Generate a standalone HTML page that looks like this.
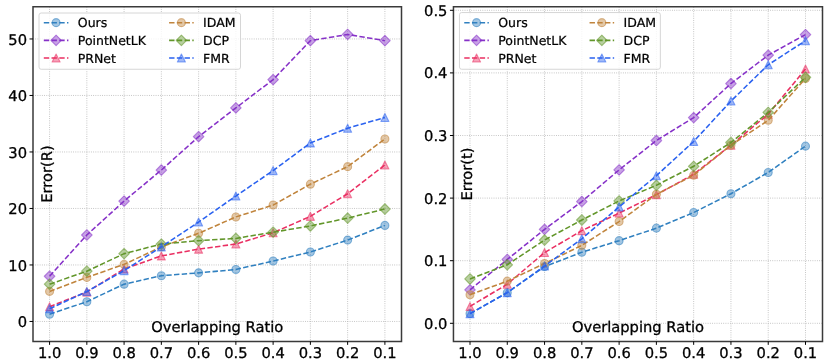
<!DOCTYPE html>
<html><head><meta charset="utf-8"><style>html,body{margin:0;padding:0;background:#fff;overflow:hidden}text{text-rendering:geometricPrecision}svg{display:block}</style></head>
<body>
<svg width="831" height="362" viewBox="0 0 831 362" font-family="'DejaVu Sans', 'Liberation Sans', sans-serif">
<g>
<rect width="831" height="362" fill="#ffffff"/>
<g stroke="#b0b0b0" stroke-width="0.84" stroke-dasharray="0.84,1.39"><line x1="49.57" y1="6.7" x2="49.57" y2="341.45"/><line x1="86.83" y1="6.7" x2="86.83" y2="341.45"/><line x1="124.09" y1="6.7" x2="124.09" y2="341.45"/><line x1="161.35" y1="6.7" x2="161.35" y2="341.45"/><line x1="198.61" y1="6.7" x2="198.61" y2="341.45"/><line x1="235.86" y1="6.7" x2="235.86" y2="341.45"/><line x1="273.12" y1="6.7" x2="273.12" y2="341.45"/><line x1="310.38" y1="6.7" x2="310.38" y2="341.45"/><line x1="347.64" y1="6.7" x2="347.64" y2="341.45"/><line x1="384.90" y1="6.7" x2="384.90" y2="341.45"/><line x1="33.0" y1="321.46" x2="401.5" y2="321.46"/><line x1="33.0" y1="264.96" x2="401.5" y2="264.96"/><line x1="33.0" y1="208.46" x2="401.5" y2="208.46"/><line x1="33.0" y1="151.96" x2="401.5" y2="151.96"/><line x1="33.0" y1="95.46" x2="401.5" y2="95.46"/><line x1="33.0" y1="38.96" x2="401.5" y2="38.96"/></g>
<polyline points="49.57,314.28 86.83,301.69 124.09,284.17 161.35,275.69 198.61,272.87 235.86,269.48 273.12,261.00 310.38,251.96 347.64,240.10 384.90,225.41" fill="none" stroke="#3080c0" stroke-width="1.55" stroke-dasharray="5.4,2.33"/>
<circle cx="49.57" cy="314.28" r="4.00" fill="#3080c0" fill-opacity="0.45" stroke="#3080c0" stroke-opacity="0.55" stroke-width="1.1" stroke-linejoin="round"/><circle cx="86.83" cy="301.69" r="4.00" fill="#3080c0" fill-opacity="0.45" stroke="#3080c0" stroke-opacity="0.55" stroke-width="1.1" stroke-linejoin="round"/><circle cx="124.09" cy="284.17" r="4.00" fill="#3080c0" fill-opacity="0.45" stroke="#3080c0" stroke-opacity="0.55" stroke-width="1.1" stroke-linejoin="round"/><circle cx="161.35" cy="275.69" r="4.00" fill="#3080c0" fill-opacity="0.45" stroke="#3080c0" stroke-opacity="0.55" stroke-width="1.1" stroke-linejoin="round"/><circle cx="198.61" cy="272.87" r="4.00" fill="#3080c0" fill-opacity="0.45" stroke="#3080c0" stroke-opacity="0.55" stroke-width="1.1" stroke-linejoin="round"/><circle cx="235.86" cy="269.48" r="4.00" fill="#3080c0" fill-opacity="0.45" stroke="#3080c0" stroke-opacity="0.55" stroke-width="1.1" stroke-linejoin="round"/><circle cx="273.12" cy="261.00" r="4.00" fill="#3080c0" fill-opacity="0.45" stroke="#3080c0" stroke-opacity="0.55" stroke-width="1.1" stroke-linejoin="round"/><circle cx="310.38" cy="251.96" r="4.00" fill="#3080c0" fill-opacity="0.45" stroke="#3080c0" stroke-opacity="0.55" stroke-width="1.1" stroke-linejoin="round"/><circle cx="347.64" cy="240.10" r="4.00" fill="#3080c0" fill-opacity="0.45" stroke="#3080c0" stroke-opacity="0.55" stroke-width="1.1" stroke-linejoin="round"/><circle cx="384.90" cy="225.41" r="4.00" fill="#3080c0" fill-opacity="0.45" stroke="#3080c0" stroke-opacity="0.55" stroke-width="1.1" stroke-linejoin="round"/>
<polyline points="49.57,276.26 86.83,235.01 124.09,201.11 161.35,170.04 198.61,136.70 235.86,107.89 273.12,79.64 310.38,40.65 347.64,34.44 384.90,40.65" fill="none" stroke="#8631c8" stroke-width="1.55" stroke-dasharray="5.4,2.33"/>
<path d="M49.57,270.98L54.85,276.26L49.57,281.54L44.29,276.26Z" fill="#8631c8" fill-opacity="0.45" stroke="#8631c8" stroke-opacity="0.55" stroke-width="1.1" stroke-linejoin="round"/><path d="M86.83,229.73L92.11,235.01L86.83,240.29L81.55,235.01Z" fill="#8631c8" fill-opacity="0.45" stroke="#8631c8" stroke-opacity="0.55" stroke-width="1.1" stroke-linejoin="round"/><path d="M124.09,195.83L129.37,201.11L124.09,206.39L118.81,201.11Z" fill="#8631c8" fill-opacity="0.45" stroke="#8631c8" stroke-opacity="0.55" stroke-width="1.1" stroke-linejoin="round"/><path d="M161.35,164.76L166.63,170.04L161.35,175.32L156.07,170.04Z" fill="#8631c8" fill-opacity="0.45" stroke="#8631c8" stroke-opacity="0.55" stroke-width="1.1" stroke-linejoin="round"/><path d="M198.61,131.42L203.89,136.70L198.61,141.98L193.33,136.70Z" fill="#8631c8" fill-opacity="0.45" stroke="#8631c8" stroke-opacity="0.55" stroke-width="1.1" stroke-linejoin="round"/><path d="M235.86,102.61L241.14,107.89L235.86,113.17L230.58,107.89Z" fill="#8631c8" fill-opacity="0.45" stroke="#8631c8" stroke-opacity="0.55" stroke-width="1.1" stroke-linejoin="round"/><path d="M273.12,74.36L278.40,79.64L273.12,84.92L267.84,79.64Z" fill="#8631c8" fill-opacity="0.45" stroke="#8631c8" stroke-opacity="0.55" stroke-width="1.1" stroke-linejoin="round"/><path d="M310.38,35.37L315.66,40.65L310.38,45.93L305.10,40.65Z" fill="#8631c8" fill-opacity="0.45" stroke="#8631c8" stroke-opacity="0.55" stroke-width="1.1" stroke-linejoin="round"/><path d="M347.64,29.16L352.92,34.44L347.64,39.72L342.36,34.44Z" fill="#8631c8" fill-opacity="0.45" stroke="#8631c8" stroke-opacity="0.55" stroke-width="1.1" stroke-linejoin="round"/><path d="M384.90,35.37L390.18,40.65L384.90,45.93L379.62,40.65Z" fill="#8631c8" fill-opacity="0.45" stroke="#8631c8" stroke-opacity="0.55" stroke-width="1.1" stroke-linejoin="round"/>
<polyline points="49.57,306.66 86.83,292.08 124.09,268.91 161.35,255.92 198.61,249.14 235.86,244.05 273.12,232.75 310.38,216.37 347.64,193.77 384.90,164.95" fill="none" stroke="#ea2f62" stroke-width="1.55" stroke-dasharray="5.4,2.33"/>
<path d="M49.57,302.66L53.57,310.66L45.57,310.66Z" fill="#ea2f62" fill-opacity="0.45" stroke="#ea2f62" stroke-opacity="0.55" stroke-width="1.1" stroke-linejoin="round"/><path d="M86.83,288.08L90.83,296.08L82.83,296.08Z" fill="#ea2f62" fill-opacity="0.45" stroke="#ea2f62" stroke-opacity="0.55" stroke-width="1.1" stroke-linejoin="round"/><path d="M124.09,264.91L128.09,272.91L120.09,272.91Z" fill="#ea2f62" fill-opacity="0.45" stroke="#ea2f62" stroke-opacity="0.55" stroke-width="1.1" stroke-linejoin="round"/><path d="M161.35,251.92L165.35,259.92L157.35,259.92Z" fill="#ea2f62" fill-opacity="0.45" stroke="#ea2f62" stroke-opacity="0.55" stroke-width="1.1" stroke-linejoin="round"/><path d="M198.61,245.14L202.61,253.14L194.61,253.14Z" fill="#ea2f62" fill-opacity="0.45" stroke="#ea2f62" stroke-opacity="0.55" stroke-width="1.1" stroke-linejoin="round"/><path d="M235.86,240.05L239.86,248.05L231.86,248.05Z" fill="#ea2f62" fill-opacity="0.45" stroke="#ea2f62" stroke-opacity="0.55" stroke-width="1.1" stroke-linejoin="round"/><path d="M273.12,228.75L277.12,236.75L269.12,236.75Z" fill="#ea2f62" fill-opacity="0.45" stroke="#ea2f62" stroke-opacity="0.55" stroke-width="1.1" stroke-linejoin="round"/><path d="M310.38,212.37L314.38,220.37L306.38,220.37Z" fill="#ea2f62" fill-opacity="0.45" stroke="#ea2f62" stroke-opacity="0.55" stroke-width="1.1" stroke-linejoin="round"/><path d="M347.64,189.77L351.64,197.77L343.64,197.77Z" fill="#ea2f62" fill-opacity="0.45" stroke="#ea2f62" stroke-opacity="0.55" stroke-width="1.1" stroke-linejoin="round"/><path d="M384.90,160.95L388.90,168.95L380.90,168.95Z" fill="#ea2f62" fill-opacity="0.45" stroke="#ea2f62" stroke-opacity="0.55" stroke-width="1.1" stroke-linejoin="round"/>
<polyline points="49.57,291.40 86.83,277.39 124.09,264.39 161.35,246.88 198.61,233.32 235.86,216.93 273.12,205.07 310.38,184.16 347.64,166.65 384.90,138.96" fill="none" stroke="#c0843c" stroke-width="1.55" stroke-dasharray="5.4,2.33"/>
<circle cx="49.57" cy="291.40" r="4.00" fill="#c0843c" fill-opacity="0.45" stroke="#c0843c" stroke-opacity="0.55" stroke-width="1.1" stroke-linejoin="round"/><circle cx="86.83" cy="277.39" r="4.00" fill="#c0843c" fill-opacity="0.45" stroke="#c0843c" stroke-opacity="0.55" stroke-width="1.1" stroke-linejoin="round"/><circle cx="124.09" cy="264.39" r="4.00" fill="#c0843c" fill-opacity="0.45" stroke="#c0843c" stroke-opacity="0.55" stroke-width="1.1" stroke-linejoin="round"/><circle cx="161.35" cy="246.88" r="4.00" fill="#c0843c" fill-opacity="0.45" stroke="#c0843c" stroke-opacity="0.55" stroke-width="1.1" stroke-linejoin="round"/><circle cx="198.61" cy="233.32" r="4.00" fill="#c0843c" fill-opacity="0.45" stroke="#c0843c" stroke-opacity="0.55" stroke-width="1.1" stroke-linejoin="round"/><circle cx="235.86" cy="216.93" r="4.00" fill="#c0843c" fill-opacity="0.45" stroke="#c0843c" stroke-opacity="0.55" stroke-width="1.1" stroke-linejoin="round"/><circle cx="273.12" cy="205.07" r="4.00" fill="#c0843c" fill-opacity="0.45" stroke="#c0843c" stroke-opacity="0.55" stroke-width="1.1" stroke-linejoin="round"/><circle cx="310.38" cy="184.16" r="4.00" fill="#c0843c" fill-opacity="0.45" stroke="#c0843c" stroke-opacity="0.55" stroke-width="1.1" stroke-linejoin="round"/><circle cx="347.64" cy="166.65" r="4.00" fill="#c0843c" fill-opacity="0.45" stroke="#c0843c" stroke-opacity="0.55" stroke-width="1.1" stroke-linejoin="round"/><circle cx="384.90" cy="138.96" r="4.00" fill="#c0843c" fill-opacity="0.45" stroke="#c0843c" stroke-opacity="0.55" stroke-width="1.1" stroke-linejoin="round"/>
<polyline points="49.57,284.23 86.83,271.17 124.09,253.66 161.35,244.05 198.61,240.66 235.86,238.40 273.12,232.19 310.38,225.97 347.64,218.06 384.90,209.02" fill="none" stroke="#62962a" stroke-width="1.55" stroke-dasharray="5.4,2.33"/>
<path d="M49.57,278.95L54.85,284.23L49.57,289.51L44.29,284.23Z" fill="#62962a" fill-opacity="0.45" stroke="#62962a" stroke-opacity="0.55" stroke-width="1.1" stroke-linejoin="round"/><path d="M86.83,265.89L92.11,271.17L86.83,276.45L81.55,271.17Z" fill="#62962a" fill-opacity="0.45" stroke="#62962a" stroke-opacity="0.55" stroke-width="1.1" stroke-linejoin="round"/><path d="M124.09,248.38L129.37,253.66L124.09,258.94L118.81,253.66Z" fill="#62962a" fill-opacity="0.45" stroke="#62962a" stroke-opacity="0.55" stroke-width="1.1" stroke-linejoin="round"/><path d="M161.35,238.77L166.63,244.05L161.35,249.33L156.07,244.05Z" fill="#62962a" fill-opacity="0.45" stroke="#62962a" stroke-opacity="0.55" stroke-width="1.1" stroke-linejoin="round"/><path d="M198.61,235.38L203.89,240.66L198.61,245.94L193.33,240.66Z" fill="#62962a" fill-opacity="0.45" stroke="#62962a" stroke-opacity="0.55" stroke-width="1.1" stroke-linejoin="round"/><path d="M235.86,233.12L241.14,238.40L235.86,243.68L230.58,238.40Z" fill="#62962a" fill-opacity="0.45" stroke="#62962a" stroke-opacity="0.55" stroke-width="1.1" stroke-linejoin="round"/><path d="M273.12,226.91L278.40,232.19L273.12,237.47L267.84,232.19Z" fill="#62962a" fill-opacity="0.45" stroke="#62962a" stroke-opacity="0.55" stroke-width="1.1" stroke-linejoin="round"/><path d="M310.38,220.69L315.66,225.97L310.38,231.25L305.10,225.97Z" fill="#62962a" fill-opacity="0.45" stroke="#62962a" stroke-opacity="0.55" stroke-width="1.1" stroke-linejoin="round"/><path d="M347.64,212.78L352.92,218.06L347.64,223.34L342.36,218.06Z" fill="#62962a" fill-opacity="0.45" stroke="#62962a" stroke-opacity="0.55" stroke-width="1.1" stroke-linejoin="round"/><path d="M384.90,203.74L390.18,209.02L384.90,214.30L379.62,209.02Z" fill="#62962a" fill-opacity="0.45" stroke="#62962a" stroke-opacity="0.55" stroke-width="1.1" stroke-linejoin="round"/>
<polyline points="49.57,308.69 86.83,291.51 124.09,270.61 161.35,246.88 198.61,222.02 235.86,196.03 273.12,170.60 310.38,142.92 347.64,128.23 384.90,117.49" fill="none" stroke="#2a62f0" stroke-width="1.55" stroke-dasharray="5.4,2.33"/>
<path d="M49.57,304.69L53.57,312.69L45.57,312.69Z" fill="#2a62f0" fill-opacity="0.45" stroke="#2a62f0" stroke-opacity="0.55" stroke-width="1.1" stroke-linejoin="round"/><path d="M86.83,287.51L90.83,295.51L82.83,295.51Z" fill="#2a62f0" fill-opacity="0.45" stroke="#2a62f0" stroke-opacity="0.55" stroke-width="1.1" stroke-linejoin="round"/><path d="M124.09,266.61L128.09,274.61L120.09,274.61Z" fill="#2a62f0" fill-opacity="0.45" stroke="#2a62f0" stroke-opacity="0.55" stroke-width="1.1" stroke-linejoin="round"/><path d="M161.35,242.88L165.35,250.88L157.35,250.88Z" fill="#2a62f0" fill-opacity="0.45" stroke="#2a62f0" stroke-opacity="0.55" stroke-width="1.1" stroke-linejoin="round"/><path d="M198.61,218.02L202.61,226.02L194.61,226.02Z" fill="#2a62f0" fill-opacity="0.45" stroke="#2a62f0" stroke-opacity="0.55" stroke-width="1.1" stroke-linejoin="round"/><path d="M235.86,192.03L239.86,200.03L231.86,200.03Z" fill="#2a62f0" fill-opacity="0.45" stroke="#2a62f0" stroke-opacity="0.55" stroke-width="1.1" stroke-linejoin="round"/><path d="M273.12,166.60L277.12,174.60L269.12,174.60Z" fill="#2a62f0" fill-opacity="0.45" stroke="#2a62f0" stroke-opacity="0.55" stroke-width="1.1" stroke-linejoin="round"/><path d="M310.38,138.92L314.38,146.92L306.38,146.92Z" fill="#2a62f0" fill-opacity="0.45" stroke="#2a62f0" stroke-opacity="0.55" stroke-width="1.1" stroke-linejoin="round"/><path d="M347.64,124.23L351.64,132.23L343.64,132.23Z" fill="#2a62f0" fill-opacity="0.45" stroke="#2a62f0" stroke-opacity="0.55" stroke-width="1.1" stroke-linejoin="round"/><path d="M384.90,113.49L388.90,121.49L380.90,121.49Z" fill="#2a62f0" fill-opacity="0.45" stroke="#2a62f0" stroke-opacity="0.55" stroke-width="1.1" stroke-linejoin="round"/>
<path d="M33.0,341.45V6.7M401.5,341.45V6.7M33.0,6.7H401.5M33.0,341.45H401.5" fill="none" stroke="#3a3a3a" stroke-width="1.5" stroke-linecap="square"/>
<path d="M49.57,341.45V344.85M86.83,341.45V344.85M124.09,341.45V344.85M161.35,341.45V344.85M198.61,341.45V344.85M235.86,341.45V344.85M273.12,341.45V344.85M310.38,341.45V344.85M347.64,341.45V344.85M384.90,341.45V344.85M29.50,321.46H33.0M29.50,264.96H33.0M29.50,208.46H33.0M29.50,151.96H33.0M29.50,95.46H33.0M29.50,38.96H33.0" stroke="#000" stroke-width="1.0" fill="none"/>
<g font-size="14.7" stroke="#000" stroke-width="0.3"><text x="49.57" y="358.3" text-anchor="middle">1.0</text><text x="86.83" y="358.3" text-anchor="middle">0.9</text><text x="124.09" y="358.3" text-anchor="middle">0.8</text><text x="161.35" y="358.3" text-anchor="middle">0.7</text><text x="198.61" y="358.3" text-anchor="middle">0.6</text><text x="235.86" y="358.3" text-anchor="middle">0.5</text><text x="273.12" y="358.3" text-anchor="middle">0.4</text><text x="310.38" y="358.3" text-anchor="middle">0.3</text><text x="347.64" y="358.3" text-anchor="middle">0.2</text><text x="384.90" y="358.3" text-anchor="middle">0.1</text><text x="27.00" y="327.41" text-anchor="end">0</text><text x="27.00" y="270.91" text-anchor="end">10</text><text x="27.00" y="214.41" text-anchor="end">20</text><text x="27.00" y="157.91" text-anchor="end">30</text><text x="27.00" y="101.41" text-anchor="end">40</text><text x="27.00" y="44.91" text-anchor="end">50</text></g>
<text x="217.25" y="332.3" font-size="14.7" text-anchor="middle" stroke="#000" stroke-width="0.3">Overlapping Ratio</text>
<text transform="translate(51.90,174.07) rotate(-90)" font-size="14.7" text-anchor="middle" stroke="#000" stroke-width="0.3">Error(R)</text>
<rect x="39.00" y="13.00" width="201.50" height="56.25" rx="2.2" fill="#fff" fill-opacity="0.8" stroke="#d6d6d6" stroke-width="1"/>
<line x1="43.80" y1="22.65" x2="68.40" y2="22.65" stroke="#3080c0" stroke-width="1.55" stroke-dasharray="5.4,2.33"/>
<circle cx="56.10" cy="22.65" r="4.00" fill="#3080c0" fill-opacity="0.45" stroke="#3080c0" stroke-opacity="0.55" stroke-width="1.1" stroke-linejoin="round"/>
<text x="77.80" y="27.15" font-size="12.5" stroke="#000" stroke-width="0.24">Ours</text>
<line x1="43.80" y1="40.35" x2="68.40" y2="40.35" stroke="#8631c8" stroke-width="1.55" stroke-dasharray="5.4,2.33"/>
<path d="M56.10,35.07L61.38,40.35L56.10,45.63L50.82,40.35Z" fill="#8631c8" fill-opacity="0.45" stroke="#8631c8" stroke-opacity="0.55" stroke-width="1.1" stroke-linejoin="round"/>
<text x="77.80" y="44.85" font-size="12.5" stroke="#000" stroke-width="0.24">PointNetLK</text>
<line x1="43.80" y1="58.05" x2="68.40" y2="58.05" stroke="#ea2f62" stroke-width="1.55" stroke-dasharray="5.4,2.33"/>
<path d="M56.10,54.05L60.10,62.05L52.10,62.05Z" fill="#ea2f62" fill-opacity="0.45" stroke="#ea2f62" stroke-opacity="0.55" stroke-width="1.1" stroke-linejoin="round"/>
<text x="77.80" y="62.55" font-size="12.5" stroke="#000" stroke-width="0.24">PRNet</text>
<line x1="169.10" y1="22.65" x2="193.70" y2="22.65" stroke="#c0843c" stroke-width="1.55" stroke-dasharray="5.4,2.33"/>
<circle cx="181.40" cy="22.65" r="4.00" fill="#c0843c" fill-opacity="0.45" stroke="#c0843c" stroke-opacity="0.55" stroke-width="1.1" stroke-linejoin="round"/>
<text x="203.10" y="27.15" font-size="12.5" stroke="#000" stroke-width="0.24">IDAM</text>
<line x1="169.10" y1="40.35" x2="193.70" y2="40.35" stroke="#62962a" stroke-width="1.55" stroke-dasharray="5.4,2.33"/>
<path d="M181.40,35.07L186.68,40.35L181.40,45.63L176.12,40.35Z" fill="#62962a" fill-opacity="0.45" stroke="#62962a" stroke-opacity="0.55" stroke-width="1.1" stroke-linejoin="round"/>
<text x="203.10" y="44.85" font-size="12.5" stroke="#000" stroke-width="0.24">DCP</text>
<line x1="169.10" y1="58.05" x2="193.70" y2="58.05" stroke="#2a62f0" stroke-width="1.55" stroke-dasharray="5.4,2.33"/>
<path d="M181.40,54.05L185.40,62.05L177.40,62.05Z" fill="#2a62f0" fill-opacity="0.45" stroke="#2a62f0" stroke-opacity="0.55" stroke-width="1.1" stroke-linejoin="round"/>
<text x="203.10" y="62.55" font-size="12.5" stroke="#000" stroke-width="0.24">FMR</text>
<g stroke="#b0b0b0" stroke-width="0.84" stroke-dasharray="0.84,1.39"><line x1="470.00" y1="6.75" x2="470.00" y2="341.45"/><line x1="507.28" y1="6.75" x2="507.28" y2="341.45"/><line x1="544.56" y1="6.75" x2="544.56" y2="341.45"/><line x1="581.83" y1="6.75" x2="581.83" y2="341.45"/><line x1="619.11" y1="6.75" x2="619.11" y2="341.45"/><line x1="656.39" y1="6.75" x2="656.39" y2="341.45"/><line x1="693.67" y1="6.75" x2="693.67" y2="341.45"/><line x1="730.94" y1="6.75" x2="730.94" y2="341.45"/><line x1="768.22" y1="6.75" x2="768.22" y2="341.45"/><line x1="805.50" y1="6.75" x2="805.50" y2="341.45"/><line x1="453.45" y1="323.30" x2="822.5" y2="323.30"/><line x1="453.45" y1="260.70" x2="822.5" y2="260.70"/><line x1="453.45" y1="198.10" x2="822.5" y2="198.10"/><line x1="453.45" y1="135.50" x2="822.5" y2="135.50"/><line x1="453.45" y1="72.90" x2="822.5" y2="72.90"/><line x1="453.45" y1="10.30" x2="822.5" y2="10.30"/></g>
<polyline points="470.00,313.60 507.28,292.63 544.56,266.65 581.83,252.19 619.11,240.67 656.39,228.15 693.67,212.50 730.94,193.72 768.22,172.43 805.50,146.14" fill="none" stroke="#3080c0" stroke-width="1.55" stroke-dasharray="5.4,2.33"/>
<circle cx="470.00" cy="313.60" r="4.00" fill="#3080c0" fill-opacity="0.45" stroke="#3080c0" stroke-opacity="0.55" stroke-width="1.1" stroke-linejoin="round"/><circle cx="507.28" cy="292.63" r="4.00" fill="#3080c0" fill-opacity="0.45" stroke="#3080c0" stroke-opacity="0.55" stroke-width="1.1" stroke-linejoin="round"/><circle cx="544.56" cy="266.65" r="4.00" fill="#3080c0" fill-opacity="0.45" stroke="#3080c0" stroke-opacity="0.55" stroke-width="1.1" stroke-linejoin="round"/><circle cx="581.83" cy="252.19" r="4.00" fill="#3080c0" fill-opacity="0.45" stroke="#3080c0" stroke-opacity="0.55" stroke-width="1.1" stroke-linejoin="round"/><circle cx="619.11" cy="240.67" r="4.00" fill="#3080c0" fill-opacity="0.45" stroke="#3080c0" stroke-opacity="0.55" stroke-width="1.1" stroke-linejoin="round"/><circle cx="656.39" cy="228.15" r="4.00" fill="#3080c0" fill-opacity="0.45" stroke="#3080c0" stroke-opacity="0.55" stroke-width="1.1" stroke-linejoin="round"/><circle cx="693.67" cy="212.50" r="4.00" fill="#3080c0" fill-opacity="0.45" stroke="#3080c0" stroke-opacity="0.55" stroke-width="1.1" stroke-linejoin="round"/><circle cx="730.94" cy="193.72" r="4.00" fill="#3080c0" fill-opacity="0.45" stroke="#3080c0" stroke-opacity="0.55" stroke-width="1.1" stroke-linejoin="round"/><circle cx="768.22" cy="172.43" r="4.00" fill="#3080c0" fill-opacity="0.45" stroke="#3080c0" stroke-opacity="0.55" stroke-width="1.1" stroke-linejoin="round"/><circle cx="805.50" cy="146.14" r="4.00" fill="#3080c0" fill-opacity="0.45" stroke="#3080c0" stroke-opacity="0.55" stroke-width="1.1" stroke-linejoin="round"/>
<polyline points="470.00,289.81 507.28,259.45 544.56,229.40 581.83,201.54 619.11,169.93 656.39,140.51 693.67,117.60 730.94,83.54 768.22,55.18 805.50,34.59" fill="none" stroke="#8631c8" stroke-width="1.55" stroke-dasharray="5.4,2.33"/>
<path d="M470.00,284.53L475.28,289.81L470.00,295.09L464.72,289.81Z" fill="#8631c8" fill-opacity="0.45" stroke="#8631c8" stroke-opacity="0.55" stroke-width="1.1" stroke-linejoin="round"/><path d="M507.28,254.17L512.56,259.45L507.28,264.73L502.00,259.45Z" fill="#8631c8" fill-opacity="0.45" stroke="#8631c8" stroke-opacity="0.55" stroke-width="1.1" stroke-linejoin="round"/><path d="M544.56,224.12L549.84,229.40L544.56,234.68L539.28,229.40Z" fill="#8631c8" fill-opacity="0.45" stroke="#8631c8" stroke-opacity="0.55" stroke-width="1.1" stroke-linejoin="round"/><path d="M581.83,196.26L587.11,201.54L581.83,206.82L576.55,201.54Z" fill="#8631c8" fill-opacity="0.45" stroke="#8631c8" stroke-opacity="0.55" stroke-width="1.1" stroke-linejoin="round"/><path d="M619.11,164.65L624.39,169.93L619.11,175.21L613.83,169.93Z" fill="#8631c8" fill-opacity="0.45" stroke="#8631c8" stroke-opacity="0.55" stroke-width="1.1" stroke-linejoin="round"/><path d="M656.39,135.23L661.67,140.51L656.39,145.79L651.11,140.51Z" fill="#8631c8" fill-opacity="0.45" stroke="#8631c8" stroke-opacity="0.55" stroke-width="1.1" stroke-linejoin="round"/><path d="M693.67,112.32L698.95,117.60L693.67,122.88L688.39,117.60Z" fill="#8631c8" fill-opacity="0.45" stroke="#8631c8" stroke-opacity="0.55" stroke-width="1.1" stroke-linejoin="round"/><path d="M730.94,78.26L736.22,83.54L730.94,88.82L725.66,83.54Z" fill="#8631c8" fill-opacity="0.45" stroke="#8631c8" stroke-opacity="0.55" stroke-width="1.1" stroke-linejoin="round"/><path d="M768.22,49.90L773.50,55.18L768.22,60.46L762.94,55.18Z" fill="#8631c8" fill-opacity="0.45" stroke="#8631c8" stroke-opacity="0.55" stroke-width="1.1" stroke-linejoin="round"/><path d="M805.50,29.31L810.78,34.59L805.50,39.87L800.22,34.59Z" fill="#8631c8" fill-opacity="0.45" stroke="#8631c8" stroke-opacity="0.55" stroke-width="1.1" stroke-linejoin="round"/>
<polyline points="470.00,306.40 507.28,284.18 544.56,252.56 581.83,230.65 619.11,213.12 656.39,194.66 693.67,174.31 730.94,145.20 768.22,114.22 805.50,69.02" fill="none" stroke="#ea2f62" stroke-width="1.55" stroke-dasharray="5.4,2.33"/>
<path d="M470.00,302.40L474.00,310.40L466.00,310.40Z" fill="#ea2f62" fill-opacity="0.45" stroke="#ea2f62" stroke-opacity="0.55" stroke-width="1.1" stroke-linejoin="round"/><path d="M507.28,280.18L511.28,288.18L503.28,288.18Z" fill="#ea2f62" fill-opacity="0.45" stroke="#ea2f62" stroke-opacity="0.55" stroke-width="1.1" stroke-linejoin="round"/><path d="M544.56,248.56L548.56,256.56L540.56,256.56Z" fill="#ea2f62" fill-opacity="0.45" stroke="#ea2f62" stroke-opacity="0.55" stroke-width="1.1" stroke-linejoin="round"/><path d="M581.83,226.65L585.83,234.65L577.83,234.65Z" fill="#ea2f62" fill-opacity="0.45" stroke="#ea2f62" stroke-opacity="0.55" stroke-width="1.1" stroke-linejoin="round"/><path d="M619.11,209.12L623.11,217.12L615.11,217.12Z" fill="#ea2f62" fill-opacity="0.45" stroke="#ea2f62" stroke-opacity="0.55" stroke-width="1.1" stroke-linejoin="round"/><path d="M656.39,190.66L660.39,198.66L652.39,198.66Z" fill="#ea2f62" fill-opacity="0.45" stroke="#ea2f62" stroke-opacity="0.55" stroke-width="1.1" stroke-linejoin="round"/><path d="M693.67,170.31L697.67,178.31L689.67,178.31Z" fill="#ea2f62" fill-opacity="0.45" stroke="#ea2f62" stroke-opacity="0.55" stroke-width="1.1" stroke-linejoin="round"/><path d="M730.94,141.20L734.94,149.20L726.94,149.20Z" fill="#ea2f62" fill-opacity="0.45" stroke="#ea2f62" stroke-opacity="0.55" stroke-width="1.1" stroke-linejoin="round"/><path d="M768.22,110.22L772.22,118.22L764.22,118.22Z" fill="#ea2f62" fill-opacity="0.45" stroke="#ea2f62" stroke-opacity="0.55" stroke-width="1.1" stroke-linejoin="round"/><path d="M805.50,65.02L809.50,73.02L801.50,73.02Z" fill="#ea2f62" fill-opacity="0.45" stroke="#ea2f62" stroke-opacity="0.55" stroke-width="1.1" stroke-linejoin="round"/>
<polyline points="470.00,294.69 507.28,281.17 544.56,263.52 581.83,245.36 619.11,221.57 656.39,194.34 693.67,175.25 730.94,145.20 768.22,120.29 805.50,78.53" fill="none" stroke="#c0843c" stroke-width="1.55" stroke-dasharray="5.4,2.33"/>
<circle cx="470.00" cy="294.69" r="4.00" fill="#c0843c" fill-opacity="0.45" stroke="#c0843c" stroke-opacity="0.55" stroke-width="1.1" stroke-linejoin="round"/><circle cx="507.28" cy="281.17" r="4.00" fill="#c0843c" fill-opacity="0.45" stroke="#c0843c" stroke-opacity="0.55" stroke-width="1.1" stroke-linejoin="round"/><circle cx="544.56" cy="263.52" r="4.00" fill="#c0843c" fill-opacity="0.45" stroke="#c0843c" stroke-opacity="0.55" stroke-width="1.1" stroke-linejoin="round"/><circle cx="581.83" cy="245.36" r="4.00" fill="#c0843c" fill-opacity="0.45" stroke="#c0843c" stroke-opacity="0.55" stroke-width="1.1" stroke-linejoin="round"/><circle cx="619.11" cy="221.57" r="4.00" fill="#c0843c" fill-opacity="0.45" stroke="#c0843c" stroke-opacity="0.55" stroke-width="1.1" stroke-linejoin="round"/><circle cx="656.39" cy="194.34" r="4.00" fill="#c0843c" fill-opacity="0.45" stroke="#c0843c" stroke-opacity="0.55" stroke-width="1.1" stroke-linejoin="round"/><circle cx="693.67" cy="175.25" r="4.00" fill="#c0843c" fill-opacity="0.45" stroke="#c0843c" stroke-opacity="0.55" stroke-width="1.1" stroke-linejoin="round"/><circle cx="730.94" cy="145.20" r="4.00" fill="#c0843c" fill-opacity="0.45" stroke="#c0843c" stroke-opacity="0.55" stroke-width="1.1" stroke-linejoin="round"/><circle cx="768.22" cy="120.29" r="4.00" fill="#c0843c" fill-opacity="0.45" stroke="#c0843c" stroke-opacity="0.55" stroke-width="1.1" stroke-linejoin="round"/><circle cx="805.50" cy="78.53" r="4.00" fill="#c0843c" fill-opacity="0.45" stroke="#c0843c" stroke-opacity="0.55" stroke-width="1.1" stroke-linejoin="round"/>
<polyline points="470.00,278.98 507.28,264.77 544.56,240.04 581.83,220.01 619.11,200.92 656.39,185.27 693.67,166.30 730.94,142.51 768.22,112.46 805.50,77.28" fill="none" stroke="#62962a" stroke-width="1.55" stroke-dasharray="5.4,2.33"/>
<path d="M470.00,273.70L475.28,278.98L470.00,284.26L464.72,278.98Z" fill="#62962a" fill-opacity="0.45" stroke="#62962a" stroke-opacity="0.55" stroke-width="1.1" stroke-linejoin="round"/><path d="M507.28,259.49L512.56,264.77L507.28,270.05L502.00,264.77Z" fill="#62962a" fill-opacity="0.45" stroke="#62962a" stroke-opacity="0.55" stroke-width="1.1" stroke-linejoin="round"/><path d="M544.56,234.76L549.84,240.04L544.56,245.32L539.28,240.04Z" fill="#62962a" fill-opacity="0.45" stroke="#62962a" stroke-opacity="0.55" stroke-width="1.1" stroke-linejoin="round"/><path d="M581.83,214.73L587.11,220.01L581.83,225.29L576.55,220.01Z" fill="#62962a" fill-opacity="0.45" stroke="#62962a" stroke-opacity="0.55" stroke-width="1.1" stroke-linejoin="round"/><path d="M619.11,195.64L624.39,200.92L619.11,206.20L613.83,200.92Z" fill="#62962a" fill-opacity="0.45" stroke="#62962a" stroke-opacity="0.55" stroke-width="1.1" stroke-linejoin="round"/><path d="M656.39,179.99L661.67,185.27L656.39,190.55L651.11,185.27Z" fill="#62962a" fill-opacity="0.45" stroke="#62962a" stroke-opacity="0.55" stroke-width="1.1" stroke-linejoin="round"/><path d="M693.67,161.02L698.95,166.30L693.67,171.58L688.39,166.30Z" fill="#62962a" fill-opacity="0.45" stroke="#62962a" stroke-opacity="0.55" stroke-width="1.1" stroke-linejoin="round"/><path d="M730.94,137.23L736.22,142.51L730.94,147.79L725.66,142.51Z" fill="#62962a" fill-opacity="0.45" stroke="#62962a" stroke-opacity="0.55" stroke-width="1.1" stroke-linejoin="round"/><path d="M768.22,107.18L773.50,112.46L768.22,117.74L762.94,112.46Z" fill="#62962a" fill-opacity="0.45" stroke="#62962a" stroke-opacity="0.55" stroke-width="1.1" stroke-linejoin="round"/><path d="M805.50,72.00L810.78,77.28L805.50,82.56L800.22,77.28Z" fill="#62962a" fill-opacity="0.45" stroke="#62962a" stroke-opacity="0.55" stroke-width="1.1" stroke-linejoin="round"/>
<polyline points="470.00,313.66 507.28,292.63 544.56,266.02 581.83,238.79 619.11,206.86 656.39,175.69 693.67,141.51 730.94,101.07 768.22,64.76 805.50,40.72" fill="none" stroke="#2a62f0" stroke-width="1.55" stroke-dasharray="5.4,2.33"/>
<path d="M470.00,309.66L474.00,317.66L466.00,317.66Z" fill="#2a62f0" fill-opacity="0.45" stroke="#2a62f0" stroke-opacity="0.55" stroke-width="1.1" stroke-linejoin="round"/><path d="M507.28,288.63L511.28,296.63L503.28,296.63Z" fill="#2a62f0" fill-opacity="0.45" stroke="#2a62f0" stroke-opacity="0.55" stroke-width="1.1" stroke-linejoin="round"/><path d="M544.56,262.02L548.56,270.02L540.56,270.02Z" fill="#2a62f0" fill-opacity="0.45" stroke="#2a62f0" stroke-opacity="0.55" stroke-width="1.1" stroke-linejoin="round"/><path d="M581.83,234.79L585.83,242.79L577.83,242.79Z" fill="#2a62f0" fill-opacity="0.45" stroke="#2a62f0" stroke-opacity="0.55" stroke-width="1.1" stroke-linejoin="round"/><path d="M619.11,202.86L623.11,210.86L615.11,210.86Z" fill="#2a62f0" fill-opacity="0.45" stroke="#2a62f0" stroke-opacity="0.55" stroke-width="1.1" stroke-linejoin="round"/><path d="M656.39,171.69L660.39,179.69L652.39,179.69Z" fill="#2a62f0" fill-opacity="0.45" stroke="#2a62f0" stroke-opacity="0.55" stroke-width="1.1" stroke-linejoin="round"/><path d="M693.67,137.51L697.67,145.51L689.67,145.51Z" fill="#2a62f0" fill-opacity="0.45" stroke="#2a62f0" stroke-opacity="0.55" stroke-width="1.1" stroke-linejoin="round"/><path d="M730.94,97.07L734.94,105.07L726.94,105.07Z" fill="#2a62f0" fill-opacity="0.45" stroke="#2a62f0" stroke-opacity="0.55" stroke-width="1.1" stroke-linejoin="round"/><path d="M768.22,60.76L772.22,68.76L764.22,68.76Z" fill="#2a62f0" fill-opacity="0.45" stroke="#2a62f0" stroke-opacity="0.55" stroke-width="1.1" stroke-linejoin="round"/><path d="M805.50,36.72L809.50,44.72L801.50,44.72Z" fill="#2a62f0" fill-opacity="0.45" stroke="#2a62f0" stroke-opacity="0.55" stroke-width="1.1" stroke-linejoin="round"/>
<path d="M453.45,341.45V6.75M822.5,341.45V6.75M453.45,6.75H822.5M453.45,341.45H822.5" fill="none" stroke="#3a3a3a" stroke-width="1.5" stroke-linecap="square"/>
<path d="M470.00,341.45V344.85M507.28,341.45V344.85M544.56,341.45V344.85M581.83,341.45V344.85M619.11,341.45V344.85M656.39,341.45V344.85M693.67,341.45V344.85M730.94,341.45V344.85M768.22,341.45V344.85M805.50,341.45V344.85M449.95,323.30H453.45M449.95,260.70H453.45M449.95,198.10H453.45M449.95,135.50H453.45M449.95,72.90H453.45M449.95,10.30H453.45" stroke="#000" stroke-width="1.0" fill="none"/>
<g font-size="14.7" stroke="#000" stroke-width="0.3"><text x="470.00" y="358.3" text-anchor="middle">1.0</text><text x="507.28" y="358.3" text-anchor="middle">0.9</text><text x="544.56" y="358.3" text-anchor="middle">0.8</text><text x="581.83" y="358.3" text-anchor="middle">0.7</text><text x="619.11" y="358.3" text-anchor="middle">0.6</text><text x="656.39" y="358.3" text-anchor="middle">0.5</text><text x="693.67" y="358.3" text-anchor="middle">0.4</text><text x="730.94" y="358.3" text-anchor="middle">0.3</text><text x="768.22" y="358.3" text-anchor="middle">0.2</text><text x="805.50" y="358.3" text-anchor="middle">0.1</text><text x="447.45" y="328.75" text-anchor="end">0.0</text><text x="447.45" y="266.15" text-anchor="end">0.1</text><text x="447.45" y="203.55" text-anchor="end">0.2</text><text x="447.45" y="140.95" text-anchor="end">0.3</text><text x="447.45" y="78.35" text-anchor="end">0.4</text><text x="447.45" y="15.75" text-anchor="end">0.5</text></g>
<text x="637.98" y="332.3" font-size="14.7" text-anchor="middle" stroke="#000" stroke-width="0.3">Overlapping Ratio</text>
<text transform="translate(472.35,174.10) rotate(-90)" font-size="14.7" text-anchor="middle" stroke="#000" stroke-width="0.3">Error(t)</text>
<rect x="459.45" y="12.55" width="200.90" height="56.70" rx="2.2" fill="#fff" fill-opacity="0.8" stroke="#d6d6d6" stroke-width="1"/>
<line x1="464.25" y1="22.65" x2="488.85" y2="22.65" stroke="#3080c0" stroke-width="1.55" stroke-dasharray="5.4,2.33"/>
<circle cx="476.55" cy="22.65" r="4.00" fill="#3080c0" fill-opacity="0.45" stroke="#3080c0" stroke-opacity="0.55" stroke-width="1.1" stroke-linejoin="round"/>
<text x="498.25" y="27.15" font-size="12.5" stroke="#000" stroke-width="0.24">Ours</text>
<line x1="464.25" y1="40.35" x2="488.85" y2="40.35" stroke="#8631c8" stroke-width="1.55" stroke-dasharray="5.4,2.33"/>
<path d="M476.55,35.07L481.83,40.35L476.55,45.63L471.27,40.35Z" fill="#8631c8" fill-opacity="0.45" stroke="#8631c8" stroke-opacity="0.55" stroke-width="1.1" stroke-linejoin="round"/>
<text x="498.25" y="44.85" font-size="12.5" stroke="#000" stroke-width="0.24">PointNetLK</text>
<line x1="464.25" y1="58.05" x2="488.85" y2="58.05" stroke="#ea2f62" stroke-width="1.55" stroke-dasharray="5.4,2.33"/>
<path d="M476.55,54.05L480.55,62.05L472.55,62.05Z" fill="#ea2f62" fill-opacity="0.45" stroke="#ea2f62" stroke-opacity="0.55" stroke-width="1.1" stroke-linejoin="round"/>
<text x="498.25" y="62.55" font-size="12.5" stroke="#000" stroke-width="0.24">PRNet</text>
<line x1="589.55" y1="22.65" x2="614.15" y2="22.65" stroke="#c0843c" stroke-width="1.55" stroke-dasharray="5.4,2.33"/>
<circle cx="601.85" cy="22.65" r="4.00" fill="#c0843c" fill-opacity="0.45" stroke="#c0843c" stroke-opacity="0.55" stroke-width="1.1" stroke-linejoin="round"/>
<text x="623.55" y="27.15" font-size="12.5" stroke="#000" stroke-width="0.24">IDAM</text>
<line x1="589.55" y1="40.35" x2="614.15" y2="40.35" stroke="#62962a" stroke-width="1.55" stroke-dasharray="5.4,2.33"/>
<path d="M601.85,35.07L607.13,40.35L601.85,45.63L596.57,40.35Z" fill="#62962a" fill-opacity="0.45" stroke="#62962a" stroke-opacity="0.55" stroke-width="1.1" stroke-linejoin="round"/>
<text x="623.55" y="44.85" font-size="12.5" stroke="#000" stroke-width="0.24">DCP</text>
<line x1="589.55" y1="58.05" x2="614.15" y2="58.05" stroke="#2a62f0" stroke-width="1.55" stroke-dasharray="5.4,2.33"/>
<path d="M601.85,54.05L605.85,62.05L597.85,62.05Z" fill="#2a62f0" fill-opacity="0.45" stroke="#2a62f0" stroke-opacity="0.55" stroke-width="1.1" stroke-linejoin="round"/>
<text x="623.55" y="62.55" font-size="12.5" stroke="#000" stroke-width="0.24">FMR</text>
</g></svg>
</body></html>
